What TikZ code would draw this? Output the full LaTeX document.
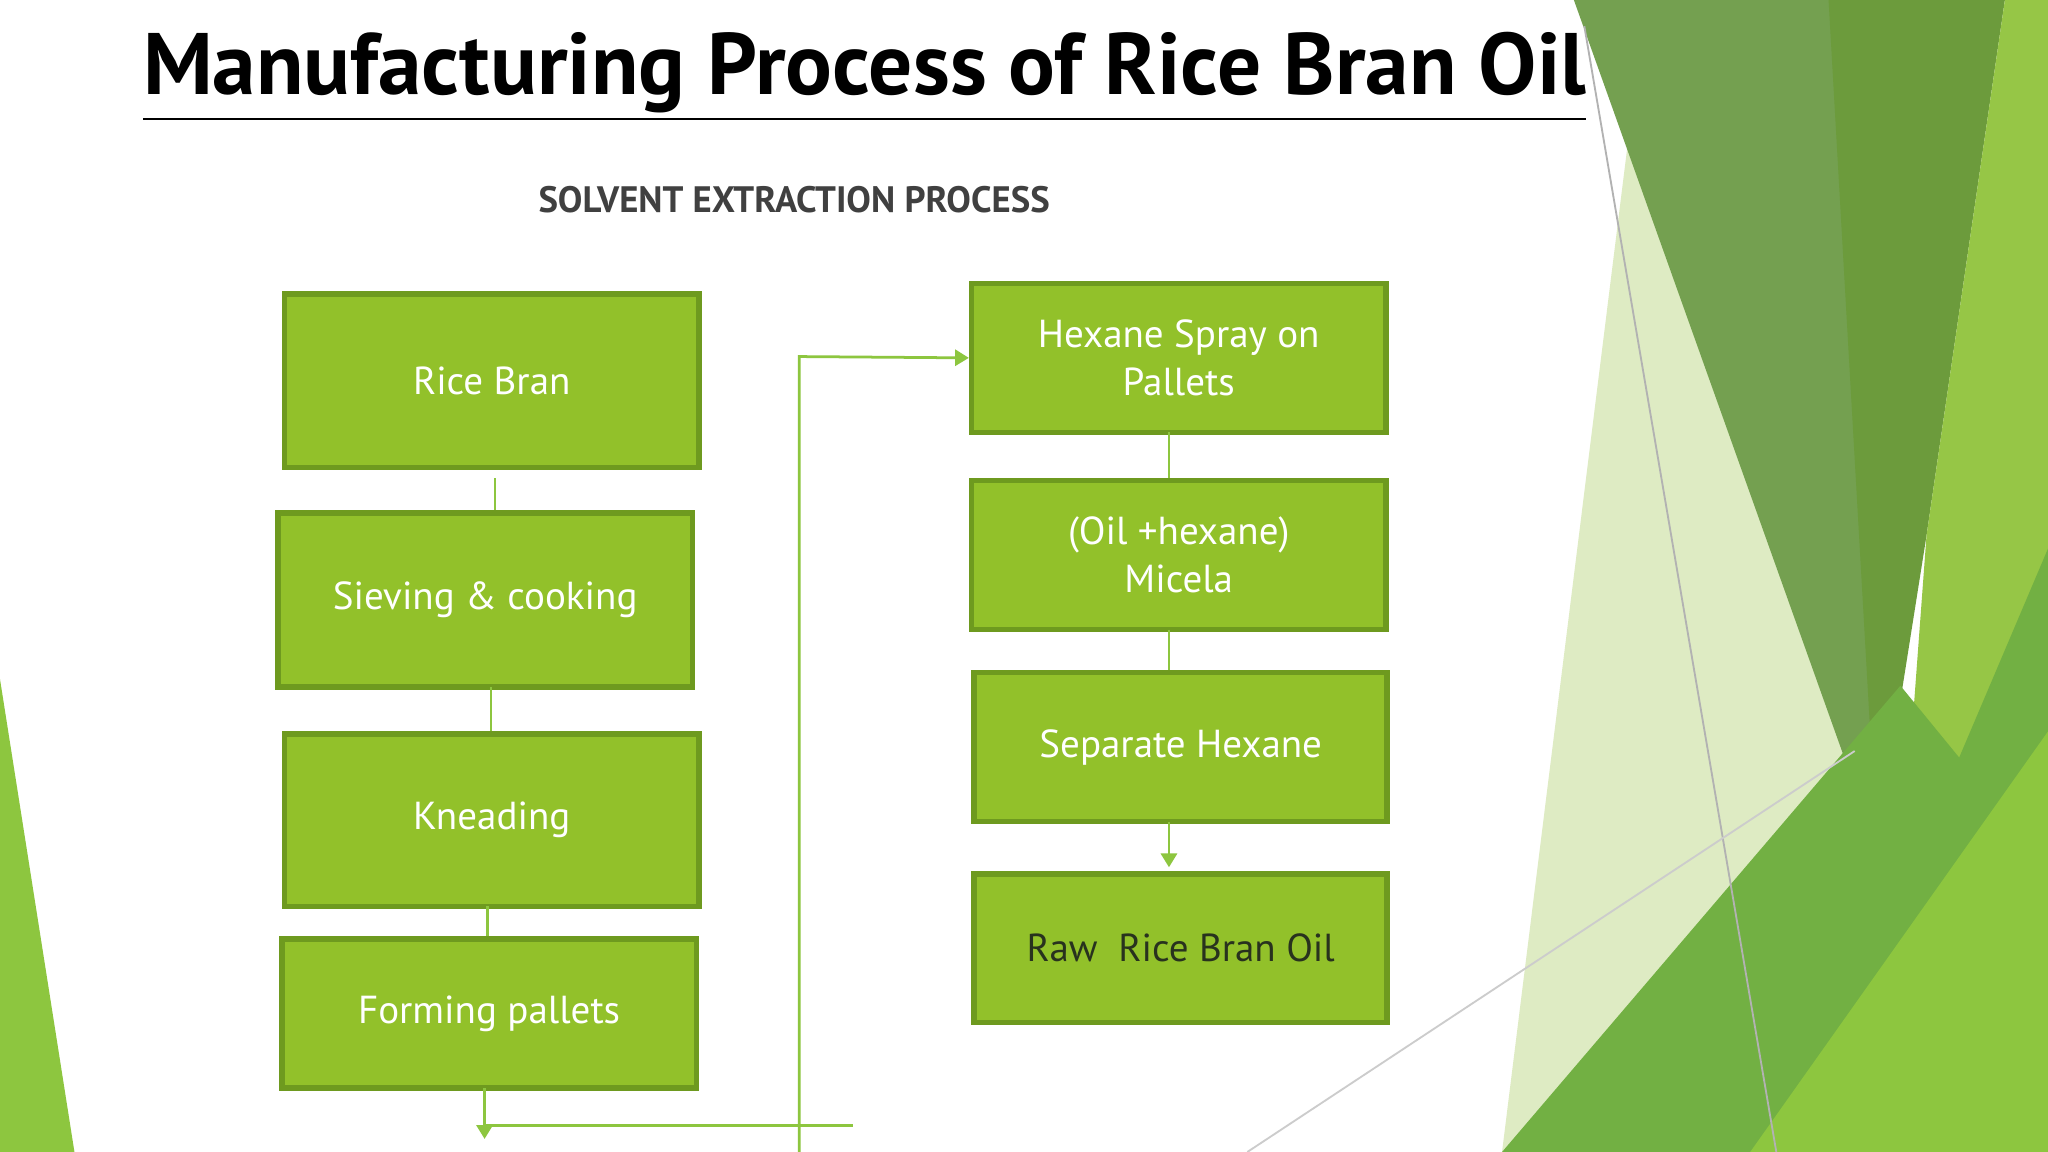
\documentclass[tikz,border=0pt]{standalone}
\usepackage{fontspec}
\setmainfont{PT Sans}
\usetikzlibrary{arrows.meta}
\definecolor{boxg}{HTML}{92C12A}
\definecolor{boxb}{HTML}{6E9A1F}
\definecolor{lng}{HTML}{8DC63F}
\begin{document}
\begin{tikzpicture}[x=0.01cm,y=-0.01cm,
 box/.style={draw=boxb,line width=1.2pt,fill=boxg,text=white,font=\fontsize{8.5}{10.5}\selectfont,align=center,inner sep=0pt},
 con/.style={draw=lng,line width=0.6pt},
 arr/.style={con,-{Triangle[length=3pt,width=3.5pt]}}]
\useasboundingbox (0,0) rectangle (1568,882);
% background decoration
\fill[white] (0,0) rectangle (1568,882);
\fill[color={rgb,255:red,222;green,235;blue,195}] (1235,60) (1250,80) -- (1420,580) -- (1200,882) -- (1150,882) -- cycle;
\fill[color={rgb,255:red,116;green,160;blue,80}] (1205,0) -- (1440,0) -- (1437,650) -- cycle;
\fill[color={rgb,255:red,108;green,155;blue,60}] (1400,0) -- (1535,0) -- (1475,410) -- (1437,650) -- cycle;
\fill[color={rgb,255:red,150;green,198;blue,70}] (1535,0) -- (1568,0) -- (1568,882) -- (1440,882) -- (1475,410) -- cycle;
\fill[color={rgb,255:red,114;green,176;blue,67}] (1150,882) -- (1455,525) -- (1500,580) -- (1568,420) -- (1568,882) -- cycle;
\fill[color={rgb,255:red,141;green,198;blue,63}] (1340,882) -- (1568,560) -- (1568,882) -- cycle;
\fill[lng] (0,520) -- (57,882) -- (0,882) -- cycle;
\draw[gray!60,line width=0.4pt] (1213,20) -- (1360,882);
\draw[gray!40,line width=0.4pt] (955,882) -- (1420,575);
% title
\node[font=\bfseries\fontsize{19}{22}\selectfont,anchor=base] (title) at (662,72) {\underline{Manufacturing Process of Rice Bran Oil}};
\node[font=\bfseries\fontsize{8}{10}\selectfont,text={rgb,255:red,64;green,64;blue,64}] (sub) at (608,153) {SOLVENT EXTRACTION PROCESS};
% boxes
\node[box,minimum width=3.17cm,minimum height=1.33cm] (a) at (376.5,291.5) {Rice Bran};
\node[box,minimum width=3.17cm,minimum height=1.33cm] (b) at (371.5,459.5) {Sieving \& cooking};
\node[box,minimum width=3.17cm,minimum height=1.32cm] (c) at (376.5,628) {Kneading};
\node[box,minimum width=3.17cm,minimum height=1.14cm] (d) at (374.5,776) {Forming pallets};
\node[box,minimum width=3.17cm,minimum height=1.14cm] (e) at (902.5,274) {Hexane Spray on\\Pallets};
\node[box,minimum width=3.17cm,minimum height=1.14cm] (f) at (902.5,425) {(Oil +hexane)\\Micela};
\node[box,minimum width=3.16cm,minimum height=1.14cm] (g) at (904,572) {Separate Hexane};
\node[box,minimum width=3.16cm,minimum height=1.14cm,text={rgb,255:red,40;green,50;blue,30}] (h) at (904,726) {Raw\ \ Rice Bran Oil};
% connectors
\draw[con] (379,366) -- (b.north -| 379,0);
\draw[con] (376,526) -- (c.north -| 376,0);
\draw[con] (373,694) -- (d.north -| 373,0);
\draw[con] (895,331) -- (f.north -| 895,0);
\draw[con] (895,482) -- (g.north -| 895,0);
\draw[arr] (895,629) -- (895,664);
\coordinate (d1) at (371,872);
\draw[arr] (371,833) -- (d1);
\coordinate (hz1) at (371,862);
\coordinate (hz2) at (653,862);
\draw[con] (hz1) -- (hz2);
\coordinate (v0) at (612,882);
\coordinate (v1) at (612,273);
\draw[arr] (v0) -- (v1) -- (e.west);
\end{tikzpicture}
\end{document}
